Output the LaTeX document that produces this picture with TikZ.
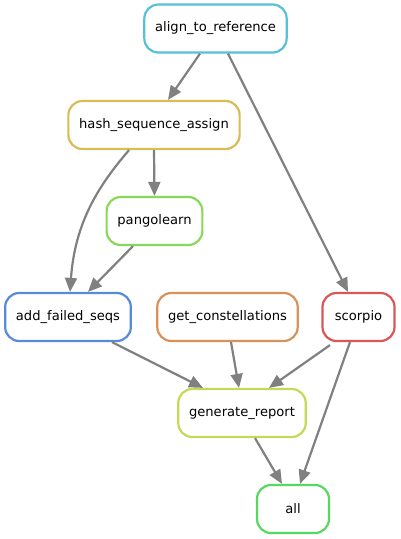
\documentclass[tikz,border=0pt]{standalone}
\usepackage{fontspec}
\setmainfont{DejaVu Sans}
\usetikzlibrary{arrows.meta}
\definecolor{cAlign}{RGB}{87,192,217}
\definecolor{cHash}{RGB}{217,188,87}
\definecolor{cPango}{RGB}{135,217,87}
\definecolor{cAdd}{RGB}{87,139,217}
\definecolor{cGet}{RGB}{217,145,87}
\definecolor{cScorp}{RGB}{217,87,87}
\definecolor{cGen}{RGB}{195,217,87}
\definecolor{cAll}{RGB}{87,217,95}
\definecolor{cEdge}{RGB}{128,128,128}
\tikzset{
  rule/.style={draw=#1, fill=white, line width=2.2pt, rounded corners=14pt,
    minimum height=48pt, minimum width=72pt, inner xsep=10.8pt,
    font=\fontsize{13.1}{15}\selectfont, text=black},
  dep/.style={draw=cEdge, line width=2.2pt, -{Triangle[length=14pt,width=12pt]}}
}
\begin{document}
\begin{tikzpicture}[x=1pt,y=-1pt]
\useasboundingbox (0,0) rectangle (400,539);
\node[rule=cAlign] (align) at (215.5,28.5) {align\_to\_reference};
\node[rule=cHash] (hash) at (154,125) {hash\_sequence\_assign};
\node[rule=cPango] (pango) at (154.5,221) {pangolearn};
\node[rule=cAdd] (add) at (68,317) {add\_failed\_seqs};
\node[rule=cGet] (get) at (227.5,317) {get\_constellations};
\node[rule=cScorp] (scorp) at (358.5,317) {scorpio};
\node[rule=cGen] (gen) at (242,413) {generate\_report};
\node[rule=cAll] (all) at (293,509) {all};
\draw[dep] ([xshift=-15.5pt]align.south) -- ([xshift=14pt]hash.north);
\draw[dep] ([xshift=12.5pt]align.south) -- ([xshift=-10.5pt]scorp.north);
\draw[dep] ([xshift=-25pt]hash.south) .. controls +(-30,35) and +(5,-70) .. ([xshift=2pt]add.north);
\draw[dep] (hash.south) -- (pango.north);
\draw[dep] ([xshift=-21.5pt]pango.south) -- ([xshift=20pt]add.north);
\draw[dep] ([xshift=44pt]add.south) -- ([xshift=-39pt]gen.north);
\draw[dep] ([xshift=3.5pt]get.south) -- ([xshift=-3pt]gen.north);
\draw[dep] ([xshift=-28.5pt,yshift=-3pt]scorp.south) -- ([xshift=27pt]gen.north);
\draw[dep] ([xshift=-8.5pt]scorp.south) -- ([xshift=7pt]all.north);
\draw[dep] ([xshift=13pt]gen.south) -- ([xshift=-11pt]all.north);
\end{tikzpicture}
\end{document}
